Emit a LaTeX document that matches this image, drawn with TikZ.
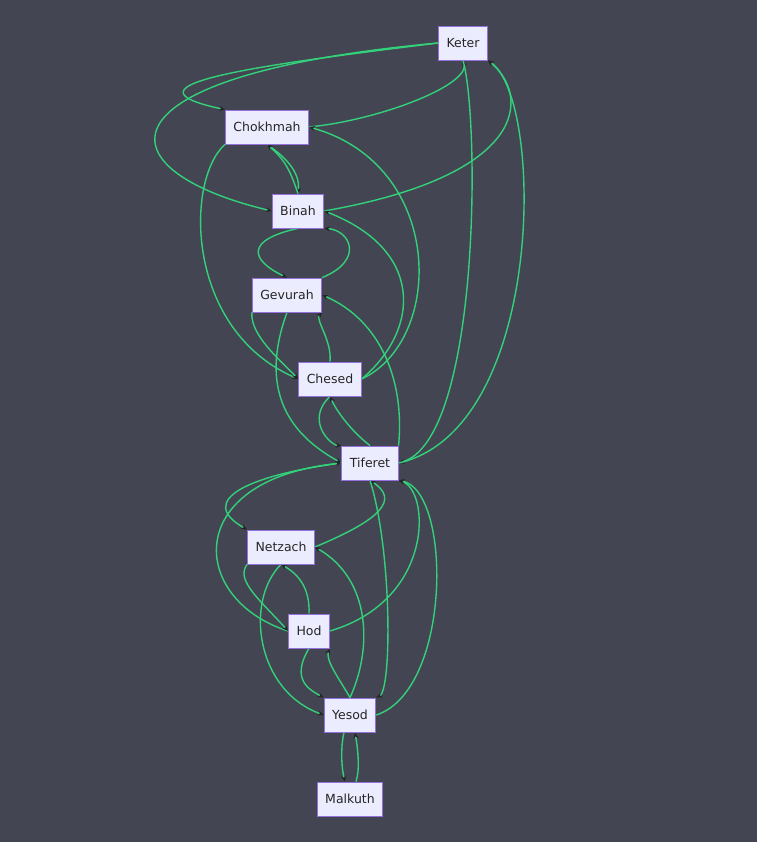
\documentclass[tikz,border=0pt]{standalone}
\usepackage{fontspec}
\setmainfont{DejaVu Sans}
\usetikzlibrary{arrows.meta}
\definecolor{bg}{HTML}{434552}
\definecolor{nf}{HTML}{ECECFF}
\definecolor{nb}{HTML}{9370DB}
\definecolor{eg}{HTML}{33D17A}
\pgfdeclarelayer{bglayer}
\pgfdeclarelayer{edges}
\pgfsetlayers{bglayer,edges,main}
\begin{document}
\begin{tikzpicture}[x=1pt,y=-1pt,
  nd/.style={draw=nb,fill=nf,line width=0.8pt,minimum height=34pt,inner xsep=8pt,font=\fontsize{12.5}{14}\selectfont,text=black!85},
  ed/.style={draw=eg,line width=1.4pt,-{Stealth[length=6pt,width=5pt,color=black!85]}}]
\begin{pgfonlayer}{bglayer}
\fill[bg] (0,0) rectangle (757,842);
\end{pgfonlayer}
\useasboundingbox (0,0) rectangle (757,842);
\node[nd] (keter) at (463,43) {Keter};
\node[nd] (chok) at (267,127) {Chokhmah};
\node[nd] (binah) at (298,211) {Binah};
\node[nd] (gev) at (287,295) {Gevurah};
\node[nd] (ches) at (330,379) {Chesed};
\node[nd] (tif) at (370,463) {Tiferet};
\node[nd] (netz) at (281,547) {Netzach};
\node[nd] (hod) at (309,631) {Hod};
\node[nd] (yes) at (350,715) {Yesod};
\node[nd] (mal) at (350,799) {Malkuth};
\begin{pgfonlayer}{edges}
\draw[ed] (keter.west) .. controls (260,65) and (110,85) .. (chok.north west);
\draw[ed] (chok.east) .. controls (380,120) and (470,85) .. (keter.south);
\draw[ed] (keter.west) .. controls (90,75) and (100,170) .. (binah.west);
\draw[ed] (binah.east) .. controls (530,175) and (530,95) .. (keter.south east);
\draw[ed] (keter.south) .. controls (480,120) and (480,440) .. (tif.east);
\draw[ed] (tif.east) .. controls (545,430) and (545,100) .. (keter.south east);
\draw[ed] (chok.south) .. controls (290,160) and (300,175) .. (binah.north);
\draw[ed] (binah.north) .. controls (290,170) and (285,160) .. (chok.south);
\draw[ed] (chok.south west) .. controls (185,180) and (185,330) .. (ches.west);
\draw[ed] (ches.east) .. controls (445,340) and (445,165) .. (chok.east);
\draw[ed] (binah.south) .. controls (245,240) and (250,260) .. (gev.north);
\draw[ed] (gev.north east) .. controls (365,260) and (350,230) .. (binah.south east);
\draw[ed] (ches.east) .. controls (420,330) and (425,250) .. (binah.east);
\draw[ed] (gev.south west) .. controls (250,335) and (280,360) .. (ches.west);
\draw[ed] (ches.north) .. controls (332,340) and (315,320) .. (gev.south east);
\draw[ed] (gev.south) .. controls (255,400) and (300,440) .. (tif.west);
\draw[ed] (tif.north east) .. controls (405,380) and (380,320) .. (gev.east);
\draw[ed] (ches.south) .. controls (305,420) and (330,445) .. (tif.north west);
\draw[ed] (tif.north) .. controls (350,430) and (336,410) .. (ches.south);
\draw[ed] (tif.west) .. controls (250,475) and (195,500) .. (netz.north west);
\draw[ed] (netz.east) .. controls (380,520) and (400,500) .. (tif.south);
\draw[ed] (hod.west) .. controls (190,600) and (180,480) .. (tif.west);
\draw[ed] (hod.east) .. controls (435,600) and (430,490) .. (tif.south east);
\draw[ed] (tif.south) .. controls (392,550) and (392,690) .. (yes.north east);
\draw[ed] (yes.east) .. controls (452,690) and (452,490) .. (tif.south east);
\draw[ed] (netz.south west) .. controls (235,580) and (260,600) .. (hod.west);
\draw[ed] (hod.north) .. controls (310,590) and (300,575) .. (netz.south);
\draw[ed] (netz.south) .. controls (245,600) and (255,690) .. (yes.west);
\draw[ed] (yes.north) .. controls (372,650) and (372,580) .. (netz.east);
\draw[ed] (hod.south) .. controls (290,680) and (310,690) .. (yes.north west);
\draw[ed] (yes.north) .. controls (340,680) and (325,660) .. (hod.south east);
\draw[ed] ([xshift=-6pt]yes.south) .. controls (340,750) and (342,770) .. ([xshift=-5pt]mal.north);
\draw[ed] ([xshift=6pt]mal.north) .. controls (360,770) and (358,750) .. ([xshift=5pt]yes.south);
\end{pgfonlayer}
\end{tikzpicture}
\end{document}
